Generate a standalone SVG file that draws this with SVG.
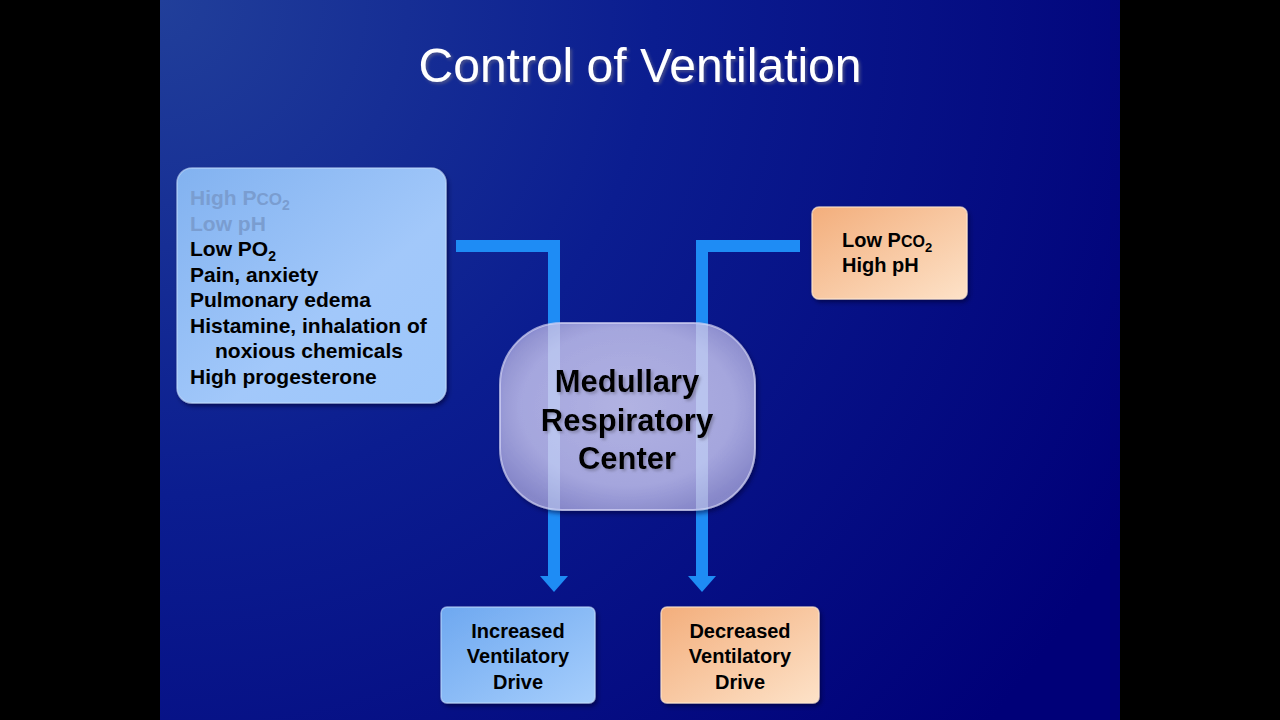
<svg xmlns="http://www.w3.org/2000/svg" width="1280" height="720" viewBox="0 0 1280 720">
  <defs>
    <radialGradient id="bg" cx="160" cy="0" r="1100" gradientUnits="userSpaceOnUse">
      <stop offset="0" stop-color="#213f9a"/>
      <stop offset="0.45" stop-color="#0b1d90"/>
      <stop offset="1" stop-color="#000078"/>
    </radialGradient>
    <linearGradient id="blueBox" x1="0" y1="0" x2="1" y2="1">
      <stop offset="0" stop-color="#82b2f0"/>
      <stop offset="0.6" stop-color="#a2c8fa"/>
      <stop offset="1" stop-color="#9cc6fa"/>
    </linearGradient>
    <linearGradient id="blueBox2" x1="0" y1="0" x2="1" y2="1">
      <stop offset="0" stop-color="#6ea8f0"/>
      <stop offset="1" stop-color="#a6cefc"/>
    </linearGradient>
    <linearGradient id="orangeBox" x1="0" y1="0" x2="1" y2="1">
      <stop offset="0" stop-color="#f3ae7c"/>
      <stop offset="1" stop-color="#fde2c8"/>
    </linearGradient>
    <radialGradient id="nodeFill" cx="0.5" cy="0.45" r="0.6">
      <stop offset="0" stop-color="#c6c6f2"/>
      <stop offset="0.7" stop-color="#b8b8ec"/>
      <stop offset="1" stop-color="#9696d6"/>
    </radialGradient>
    <filter id="shadow" x="-10%" y="-10%" width="130%" height="130%">
      <feDropShadow dx="2" dy="3" stdDeviation="2" flood-color="#000030" flood-opacity="0.6"/>
    </filter>
    <filter id="tshadow" x="-5%" y="-10%" width="115%" height="130%">
      <feDropShadow dx="2" dy="2" stdDeviation="1.5" flood-color="#6a6a88" flood-opacity="0.6"/>
    </filter>
    <marker id="arrow" viewBox="0 0 16 28" refX="0" refY="14" markerWidth="16" markerHeight="28" markerUnits="userSpaceOnUse" orient="auto">
      <path d="M0 0 L16 14 L0 28 Z" fill="#1e8cf5"/>
    </marker>
  </defs>
  <style>
    .lbl { font-family: "Liberation Sans", Arial, sans-serif; font-weight: bold; fill: #000; }
    .s { font-size: 21px; }
    .m { font-size: 20px; }
    .big { font-size: 31px; }
    .dim { fill: #7a9dd0; }
    .conn { fill: none; stroke: #1e8cf5; stroke-width: 12; }
    .box { stroke: #c8e0ff; stroke-opacity: 0.6; stroke-width: 1.5; }
    .obox { stroke: #ffe8d0; stroke-opacity: 0.7; stroke-width: 1.5; }
  </style>

  <rect x="0" y="0" width="1280" height="720" fill="#000"/>
  <rect x="160" y="0" width="960" height="720" fill="url(#bg)"/>

  <text x="640" y="82" text-anchor="middle" font-family="'Liberation Sans', Arial, sans-serif" font-size="48" fill="#fff" filter="url(#tshadow)">Control of Ventilation</text>

  <g id="connectors">
    <path class="conn" d="M456 246 H554 V576" marker-end="url(#arrow)"/>
    <path class="conn" d="M800 246 H702 V576" marker-end="url(#arrow)"/>
  </g>

  <g id="stimuli-increase">
    <rect x="177" y="168" width="269" height="235" rx="15" fill="url(#blueBox)" class="box" filter="url(#shadow)"/>
    <text class="lbl s dim" x="190" y="205">High P<tspan font-size="17">CO</tspan><tspan font-size="14" dy="5">2</tspan></text>
    <text class="lbl s dim" x="190" y="231">Low pH</text>
    <text class="lbl s" x="190" y="256">Low PO<tspan font-size="14" dy="5">2</tspan></text>
    <text class="lbl s" x="190" y="282">Pain, anxiety</text>
    <text class="lbl s" x="190" y="307">Pulmonary edema</text>
    <text class="lbl s" x="190" y="333">Histamine, inhalation of</text>
    <text class="lbl s" x="215" y="358">noxious chemicals</text>
    <text class="lbl s" x="190" y="384">High progesterone</text>
  </g>

  <g id="stimuli-decrease">
    <rect x="812" y="207" width="155" height="92" rx="7" fill="url(#orangeBox)" class="obox" filter="url(#shadow)"/>
    <text class="lbl m" x="842" y="247">Low P<tspan font-size="16">CO</tspan><tspan font-size="13" dy="5">2</tspan></text>
    <text class="lbl m" x="842" y="272">High pH</text>
  </g>

  <g id="medullary-center">
    <rect x="500" y="323" width="255" height="187" rx="62" fill="url(#nodeFill)" fill-opacity="0.85" stroke="#d6d6f6" stroke-opacity="0.7" stroke-width="2" filter="url(#shadow)"/>
    <rect x="548" y="324" width="12" height="185" fill="#d8e4fb" fill-opacity="0.35"/>
    <rect x="696" y="324" width="12" height="185" fill="#d8e4fb" fill-opacity="0.35"/>
    <g filter="url(#tshadow)">
      <text class="lbl big" x="627" y="392" text-anchor="middle">Medullary</text>
      <text class="lbl big" x="627" y="431" text-anchor="middle">Respiratory</text>
      <text class="lbl big" x="627" y="469" text-anchor="middle">Center</text>
    </g>
  </g>

  <g id="increased-drive">
    <rect x="441" y="607" width="154" height="96" rx="6" fill="url(#blueBox2)" class="box" filter="url(#shadow)"/>
    <text class="lbl m" x="518" y="638" text-anchor="middle">Increased</text>
    <text class="lbl m" x="518" y="663" text-anchor="middle">Ventilatory</text>
    <text class="lbl m" x="518" y="689" text-anchor="middle">Drive</text>
  </g>

  <g id="decreased-drive">
    <rect x="661" y="607" width="158" height="96" rx="6" fill="url(#orangeBox)" class="obox" filter="url(#shadow)"/>
    <text class="lbl m" x="740" y="638" text-anchor="middle">Decreased</text>
    <text class="lbl m" x="740" y="663" text-anchor="middle">Ventilatory</text>
    <text class="lbl m" x="740" y="689" text-anchor="middle">Drive</text>
  </g>
</svg>
